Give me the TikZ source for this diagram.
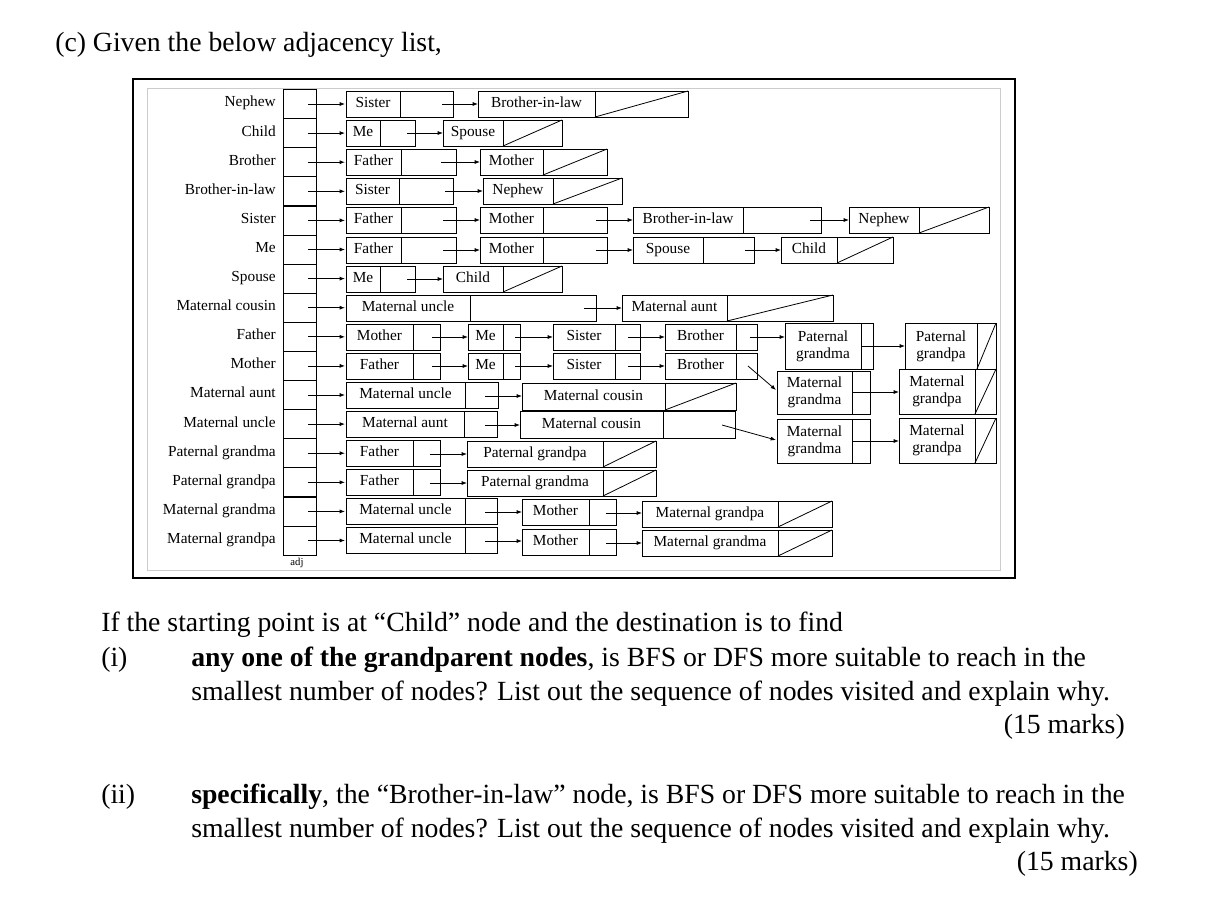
\documentclass[tikz,border=0pt]{standalone}
\usepackage{fontspec}
\setmainfont{Liberation Serif}
\usetikzlibrary{arrows.meta}
\begin{document}
\begin{tikzpicture}[x=0.75pt,y=-0.75pt,
  every node/.style={inner sep=0pt},
  lbl/.style={font=\fontsize{11.5}{12.5}\selectfont},
  one/.style={lbl,text height=1.6ex,text depth=0.3ex},
  big/.style={font=\fontsize{20.8}{24}\selectfont, anchor=base west},
  arr/.style={-{Latex[length=4pt,width=3pt]}, line width=0.6pt},
  bxl/.style={line width=0.6pt}]
\useasboundingbox (0,0) rectangle (1225,901);
\newcommand\bx[7]{%
  \draw[bxl] (#1,#4) rectangle (#3,#5) (#2,#4)--(#2,#5);
  \node[one] at ({(#1+#2)/2},{(#4+#5)/2}) {#6};
  \ifnum#7=1 \draw[bxl] (#2,#5)--(#3,#4);\fi}
\newcommand\bxx[6]{%
  \draw[bxl] (#1,#4) rectangle (#3,#5) (#2,#4)--(#2,#5);
  \node[lbl,align=center] at ({(#1+#2)/2},{(#4+#5)/2}) {#6};}
\newcommand\ar[3]{\draw[arr] (#1,#3)--(#2,#3);}
% frames
\draw[line width=1.5pt] (133,79) rectangle (1015,578);
\draw[gray!40] (147,88) rectangle (1000,570);
\node[big] (title) at (55,51) {(c) Given the below adjacency list,};
% adj column and labels
\foreach \t [count=\i from 0] in {Nephew,Child,Brother,Brother-in-law,Sister,Me,Spouse,Maternal cousin,Father,Mother,Maternal aunt,Maternal uncle,Paternal grandma,Paternal grandpa,Maternal grandma,Maternal grandpa}{
  \pgfmathsetmacro\yc{104+29.1*\i}
  \draw[bxl] (283,\yc-14.5) rectangle (316,\yc+14.5);
  \node[one,anchor=east] (l\i) at (276,\yc-1) {\t};
  \draw[arr] (308,\yc)--(345,\yc);
}
\node[font=\fontsize{8}{9}\selectfont] (adj) at (297,563) {adj};
% row 0
\bx{346}{400}{453}{91}{117}{Sister}{0}\ar{442}{478}{104}
\bx{478}{595}{688}{91}{117}{Brother-in-law}{1}
% row 1
\bx{346}{380}{415}{120}{146}{Me}{0}\ar{407}{443}{133}
\bx{443}{503}{562}{120}{146}{Spouse}{1}
% row 2
\bx{346}{401}{456}{149}{175}{Father}{0}\ar{441}{480}{162}
\bx{480}{543}{607}{149}{175}{Mother}{1}
% row 3
\bx{346}{399}{453}{178}{204}{Sister}{0}\ar{445}{483}{191}
\bx{483}{553}{622}{178}{204}{Nephew}{1}
% row 4
\bx{346}{401}{456}{207}{233}{Father}{0}\ar{443}{480}{220}
\bx{480}{543}{607}{207}{233}{Mother}{0}\ar{596}{633}{220}
\bx{633}{743}{821}{207}{233}{Brother-in-law}{0}\ar{810}{849}{220}
\bx{849}{919}{989}{207}{233}{Nephew}{1}
% row 5
\bx{346}{401}{456}{237}{263}{Father}{0}\ar{443}{480}{250}
\bx{480}{543}{607}{237}{263}{Mother}{0}\ar{596}{633}{250}
\bx{633}{703}{754}{237}{263}{Spouse}{0}\ar{745}{781}{250}
\bx{781}{837}{893}{237}{263}{Child}{1}
% row 6
\bx{346}{380}{415}{266}{292}{Me}{0}\ar{407}{443}{279}
\bx{443}{503}{562}{266}{292}{Child}{1}
% row 7
\bx{346}{470}{596}{295}{321}{Maternal uncle}{0}\ar{584}{622}{308}
\bx{622}{727}{833}{295}{321}{Maternal aunt}{1}
% row 8
\bx{346}{413}{440}{324}{350}{Mother}{0}\ar{432}{468}{337}
\bx{468}{503}{520}{324}{350}{Me}{0}\ar{515}{553}{337}
\bx{553}{615}{640}{324}{350}{Sister}{0}\ar{628}{665}{337}
\bx{665}{736}{757}{324}{350}{Brother}{0}\ar{750}{785}{337}
\bxx{785}{861}{873}{323}{369}{Paternal\\grandma}\ar{861}{905}{346}
\bxx{905}{977}{996}{323}{369}{Paternal\\grandpa}
\draw[bxl] (977,369)--(996,323);
% row 9
\bx{346}{413}{440}{353}{379}{Father}{0}\ar{432}{468}{366}
\bx{468}{503}{520}{353}{379}{Me}{0}\ar{515}{553}{366}
\bx{553}{615}{640}{353}{379}{Sister}{0}\ar{628}{665}{366}
\bx{665}{736}{757}{353}{379}{Brother}{0}
\draw[arr] (748,366)--(776,390);
\bxx{777}{852}{870}{371}{414}{Maternal\\grandma}\ar{852}{899}{392}
\bxx{899}{975}{996}{369}{414}{Maternal\\grandpa}
\draw[bxl] (975,414)--(996,369);
% row 10
\bx{346}{465}{498}{382}{408}{Maternal uncle}{0}\ar{485}{522}{396}
\bx{522}{665}{736}{383}{410}{Maternal cousin}{1}
% row 11
\bx{346}{464}{497}{411}{437}{Maternal aunt}{0}\ar{485}{520}{425}
\bx{520}{663}{735}{411}{438}{Maternal cousin}{0}
\draw[arr] (722,425)--(776,440);
\bxx{777}{852}{870}{419}{463}{Maternal\\grandma}\ar{852}{899}{441}
\bxx{899}{975}{996}{418}{463}{Maternal\\grandpa}
\draw[bxl] (975,463)--(996,418);
% row 12
\bx{346}{413}{440}{440}{466}{Father}{0}\ar{430}{467}{454}
\bx{467}{603}{656}{441}{467}{Paternal grandpa}{1}
% row 13
\bx{346}{413}{440}{469}{495}{Father}{0}\ar{430}{467}{483}
\bx{467}{603}{656}{470}{496}{Paternal grandma}{1}
% row 14
\bx{346}{465}{497}{498}{524}{Maternal uncle}{0}\ar{485}{522}{512}
\bx{522}{589}{616}{499}{525}{Mother}{0}\ar{606}{642}{513}
\bx{642}{778}{832}{501}{527}{Maternal grandpa}{1}
% row 15
\bx{346}{465}{497}{527}{553}{Maternal uncle}{0}\ar{485}{522}{541}
\bx{522}{589}{616}{529}{555}{Mother}{0}\ar{606}{642}{543}
\bx{642}{778}{832}{530}{556}{Maternal grandma}{1}
% question text
\node[big] (q) at (101,631) {If the starting point is at “Child” node and the destination is to find};
\node[big] (i) at (101,666) {(i)};
\node[big] (i1) at (191,666) {\textbf{any one of the grandparent nodes}, is BFS or DFS more suitable to reach in the};
\node[big] (i2) at (191,700) {smallest number of nodes? List out the sequence of nodes visited and explain why.};
\node[big,anchor=base east] (m1) at (1125,733) {(15 marks)};
\node[big] (ii) at (101,803) {(ii)};
\node[big] (ii1) at (191,803) {\textbf{specifically}, the “Brother-in-law” node, is BFS or DFS more suitable to reach in the};
\node[big] (ii2) at (191,837) {smallest number of nodes? List out the sequence of nodes visited and explain why.};
\node[big,anchor=base east] (m2) at (1138,870) {(15 marks)};
\end{tikzpicture}
\end{document}
